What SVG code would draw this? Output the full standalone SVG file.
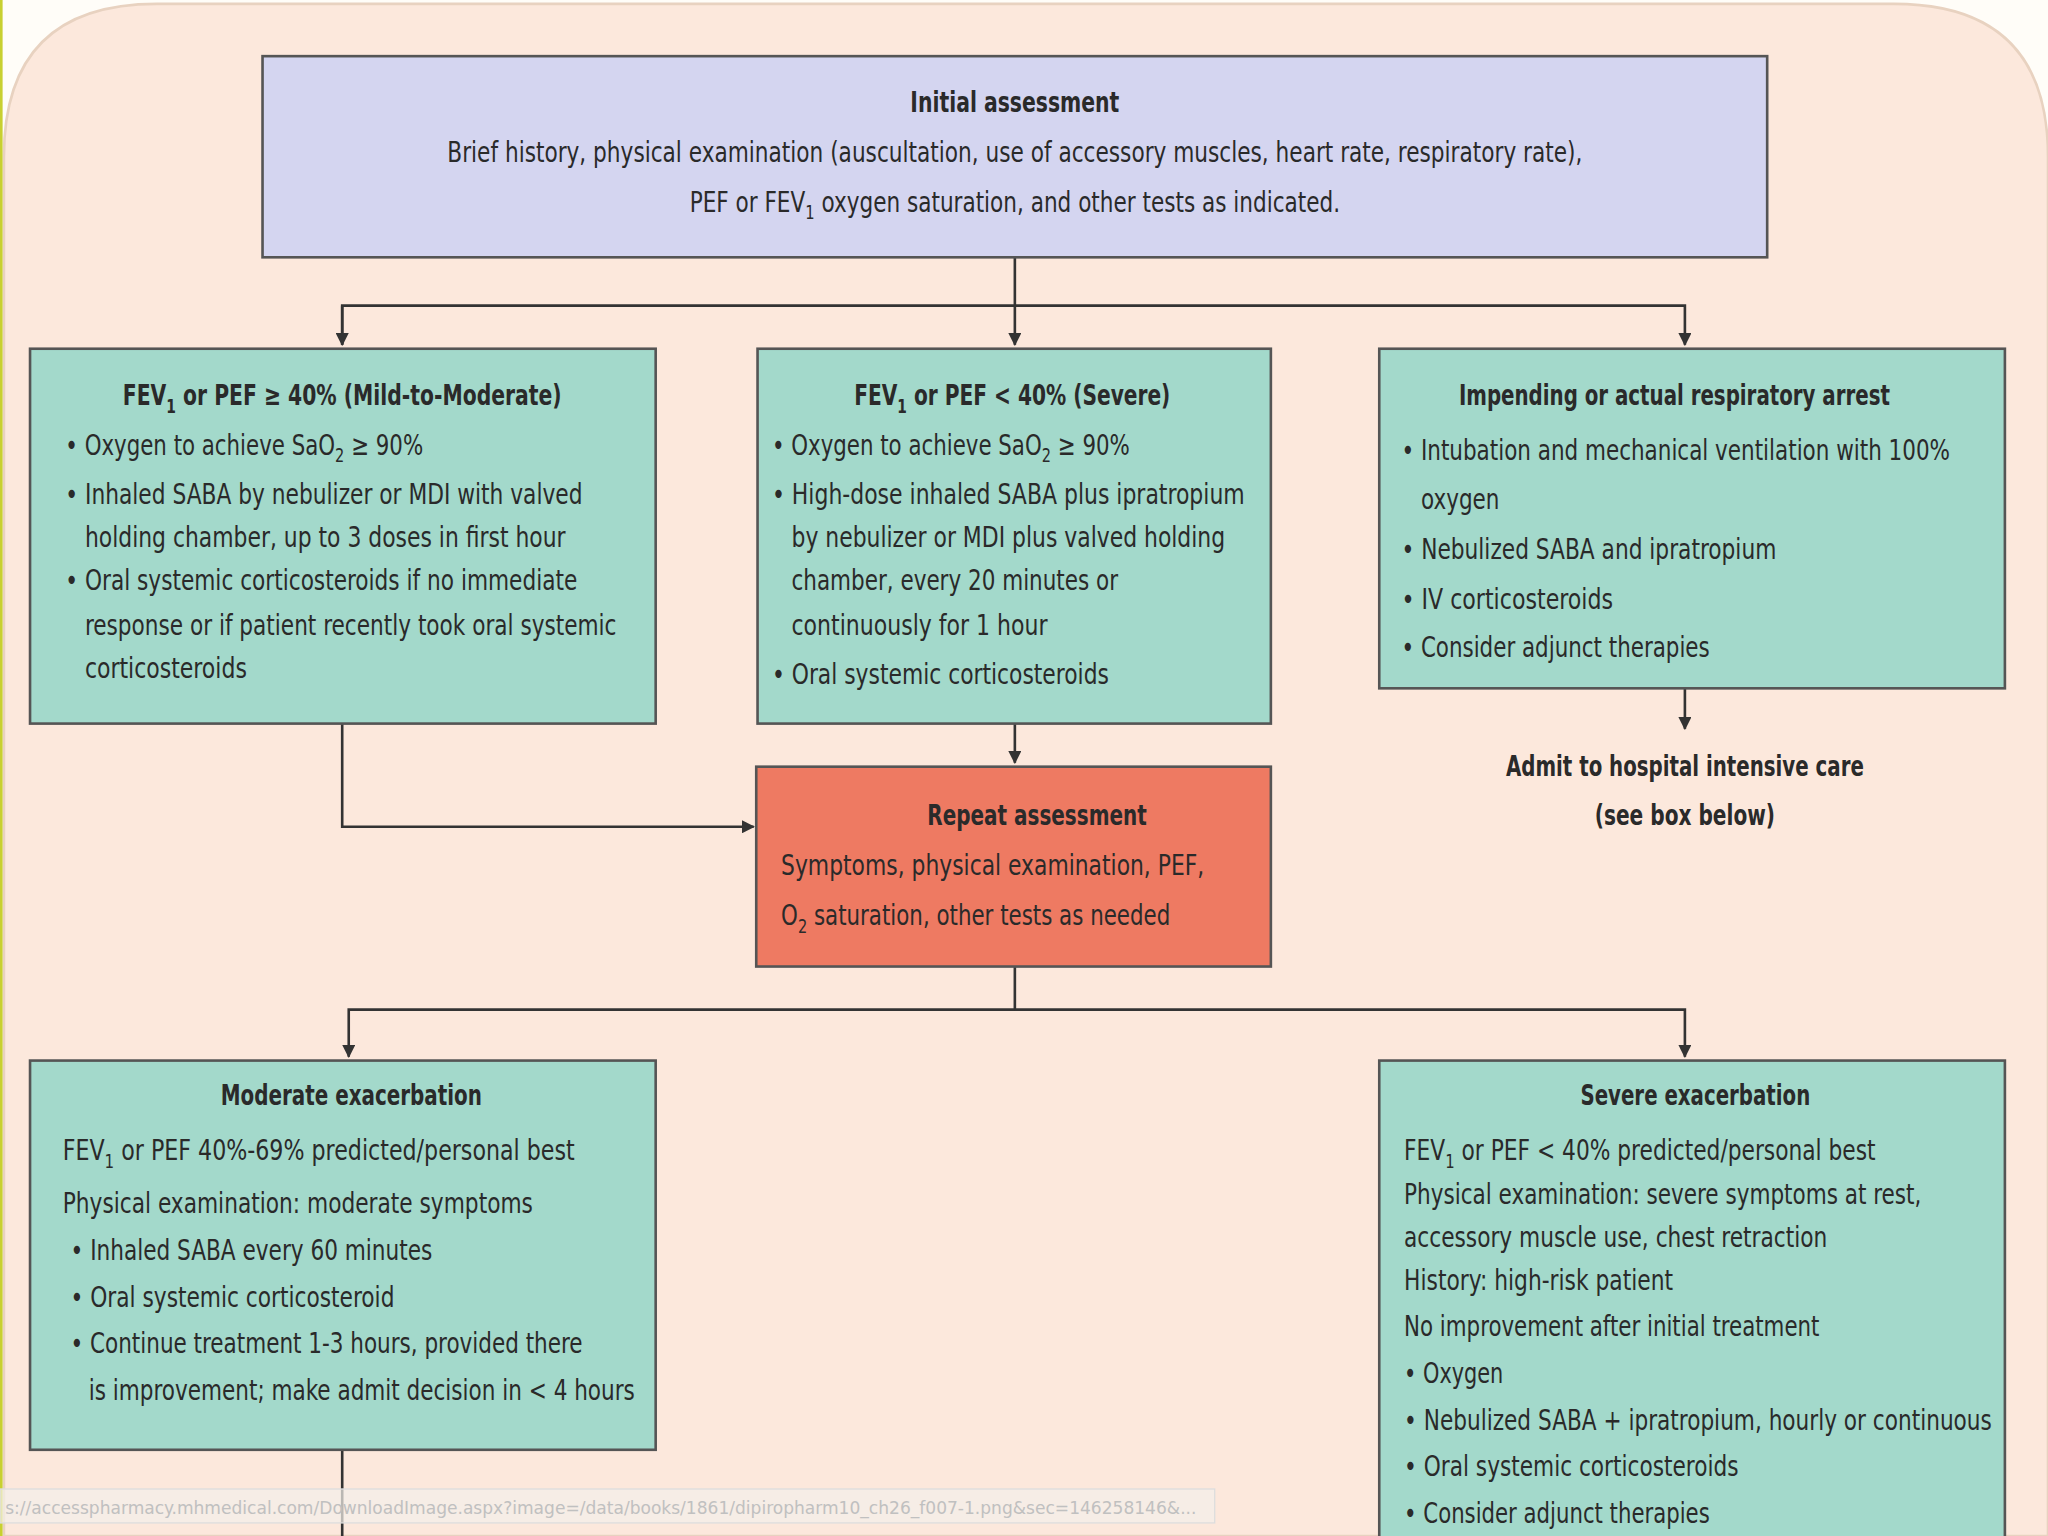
<svg xmlns="http://www.w3.org/2000/svg" width="2048" height="1536" viewBox="0 0 2048 1536">
<defs>
<marker id="ah" markerWidth="10" markerHeight="10" refX="9" refY="5" orient="auto" markerUnits="userSpaceOnUse"><path d="M0,0 L10,5 L0,10 Z" fill="#333"/></marker>
<style>
text{font-family:"DejaVu Sans Condensed","Liberation Sans Narrow","Liberation Sans",sans-serif;font-size:22px;fill:#2a2a2a}
.b{font-weight:bold}
.c{text-anchor:middle}
.box{stroke:#555;stroke-width:2}
.g{fill:#a3d9cb}
.con{stroke:#333;stroke-width:2;fill:none}
</style>
</defs>
<rect width="2048" height="1536" fill="#fffdf8"/>
<g transform="scale(1.30612)">
<path d="M3,1176 L3,120 Q3,3 120,3 L1450,3 Q1568,3 1568,120 L1568,1176 Z" fill="#fce8dc" stroke="#e8d2c0" stroke-width="2"/>
<line x1="1" y1="0" x2="1" y2="1176" stroke="#c8d030" stroke-width="2"/>
<g id="connectors">
<path class="con" d="M777,197 V264" marker-end="url(#ah)"/>
<path class="con" d="M262,264 V234 H1290 V264" marker-end="url(#ah)"/>
<path class="con" d="M262,234 V264" marker-end="url(#ah)"/>
<path class="con" d="M262,554 V633 H577" marker-end="url(#ah)"/>
<path class="con" d="M777,554 V584" marker-end="url(#ah)"/>
<path class="con" d="M1290,527 V558" marker-end="url(#ah)"/>
<path class="con" d="M777,740 V773 H1290 V809" marker-end="url(#ah)"/>
<path class="con" d="M777,773 H267 V809" marker-end="url(#ah)"/>
<path class="con" d="M262,1110 V1176"/>
</g>
<g id="initial">
<rect class="box" x="201" y="43" width="1152" height="154" fill="#d4d5f0"/>
<text class="b c" x="777" y="86" textLength="160" lengthAdjust="spacingAndGlyphs">Initial assessment</text>
<text class="c" x="777" y="124" textLength="869" lengthAdjust="spacingAndGlyphs">Brief history, physical examination (auscultation, use of accessory muscles, heart rate, respiratory rate),</text>
<text class="c" x="777" y="162" textLength="498" lengthAdjust="spacingAndGlyphs">PEF or FEV<tspan font-size="15" dy="6">1</tspan><tspan dy="-6"> oxygen saturation, and other tests as indicated.</tspan></text>
</g>
<g id="mild">
<rect class="box g" x="23" y="267" width="479" height="287"/>
<text class="b" x="94" y="310" textLength="336" lengthAdjust="spacingAndGlyphs">FEV<tspan font-size="15" dy="6">1</tspan><tspan dy="-6"> or PEF ≥ 40% (Mild-to-Moderate)</tspan></text>
<text x="50" y="348" textLength="274" lengthAdjust="spacingAndGlyphs">• Oxygen to achieve SaO<tspan font-size="15" dy="6">2</tspan><tspan dy="-6"> ≥ 90%</tspan></text>
<text x="50" y="386" textLength="396" lengthAdjust="spacingAndGlyphs">• Inhaled SABA by nebulizer or MDI with valved</text>
<text x="65" y="419" textLength="368" lengthAdjust="spacingAndGlyphs">holding chamber, up to 3 doses in first hour</text>
<text x="50" y="452" textLength="392" lengthAdjust="spacingAndGlyphs">• Oral systemic corticosteroids if no immediate</text>
<text x="65" y="486" textLength="407" lengthAdjust="spacingAndGlyphs">response or if patient recently took oral systemic</text>
<text x="65" y="519" textLength="124" lengthAdjust="spacingAndGlyphs">corticosteroids</text>
</g>
<g id="severe1">
<rect class="box g" x="580" y="267" width="393" height="287"/>
<text class="b" x="654" y="310" textLength="242" lengthAdjust="spacingAndGlyphs">FEV<tspan font-size="15" dy="6">1</tspan><tspan dy="-6"> or PEF &lt; 40% (Severe)</tspan></text>
<text x="591" y="348" textLength="274" lengthAdjust="spacingAndGlyphs">• Oxygen to achieve SaO<tspan font-size="15" dy="6">2</tspan><tspan dy="-6"> ≥ 90%</tspan></text>
<text x="591" y="386" textLength="362" lengthAdjust="spacingAndGlyphs">• High-dose inhaled SABA plus ipratropium</text>
<text x="606" y="419" textLength="332" lengthAdjust="spacingAndGlyphs">by nebulizer or MDI plus valved holding</text>
<text x="606" y="452" textLength="250" lengthAdjust="spacingAndGlyphs">chamber, every 20 minutes or</text>
<text x="606" y="486" textLength="196" lengthAdjust="spacingAndGlyphs">continuously for 1 hour</text>
<text x="591" y="524" textLength="258" lengthAdjust="spacingAndGlyphs">• Oral systemic corticosteroids</text>
</g>
<g id="arrest">
<rect class="box g" x="1056" y="267" width="479" height="260"/>
<text class="b c" x="1282" y="310" textLength="330" lengthAdjust="spacingAndGlyphs">Impending or actual respiratory arrest</text>
<text x="1073" y="352" textLength="420" lengthAdjust="spacingAndGlyphs">• Intubation and mechanical ventilation with 100%</text>
<text x="1088" y="390" textLength="60" lengthAdjust="spacingAndGlyphs">oxygen</text>
<text x="1073" y="428" textLength="287" lengthAdjust="spacingAndGlyphs">• Nebulized SABA and ipratropium</text>
<text x="1073" y="466" textLength="162" lengthAdjust="spacingAndGlyphs">• IV corticosteroids</text>
<text x="1073" y="503" textLength="236" lengthAdjust="spacingAndGlyphs">• Consider adjunct therapies</text>
</g>
<g id="admit">
<text class="b c" x="1290" y="594" textLength="274" lengthAdjust="spacingAndGlyphs">Admit to hospital intensive care</text>
<text class="b c" x="1290" y="632" textLength="138" lengthAdjust="spacingAndGlyphs">(see box below)</text>
</g>
<g id="repeat">
<rect class="box" x="579" y="587" width="394" height="153" fill="#ee7a62"/>
<text class="b c" x="794" y="632" textLength="168" lengthAdjust="spacingAndGlyphs">Repeat assessment</text>
<text x="598" y="670" textLength="324" lengthAdjust="spacingAndGlyphs">Symptoms, physical examination, PEF,</text>
<text x="598" y="708" textLength="298" lengthAdjust="spacingAndGlyphs">O<tspan font-size="15" dy="6">2</tspan><tspan dy="-6"> saturation, other tests as needed</tspan></text>
</g>
<g id="moderate">
<rect class="box g" x="23" y="812" width="479" height="298"/>
<text class="b c" x="269" y="846" textLength="200" lengthAdjust="spacingAndGlyphs">Moderate exacerbation</text>
<text x="48" y="888" textLength="392" lengthAdjust="spacingAndGlyphs">FEV<tspan font-size="15" dy="6">1</tspan><tspan dy="-6"> or PEF 40%-69% predicted/personal best</tspan></text>
<text x="48" y="929" textLength="360" lengthAdjust="spacingAndGlyphs">Physical examination: moderate symptoms</text>
<text x="54" y="965" textLength="277" lengthAdjust="spacingAndGlyphs">• Inhaled SABA every 60 minutes</text>
<text x="54" y="1001" textLength="248" lengthAdjust="spacingAndGlyphs">• Oral systemic corticosteroid</text>
<text x="54" y="1036" textLength="392" lengthAdjust="spacingAndGlyphs">• Continue treatment 1-3 hours, provided there</text>
<text x="68" y="1072" textLength="418" lengthAdjust="spacingAndGlyphs">is improvement; make admit decision in &lt; 4 hours</text>
</g>
<g id="severe2">
<rect class="box g" x="1056" y="812" width="479" height="370"/>
<text class="b c" x="1298" y="846" textLength="176" lengthAdjust="spacingAndGlyphs">Severe exacerbation</text>
<text x="1075" y="888" textLength="361" lengthAdjust="spacingAndGlyphs">FEV<tspan font-size="15" dy="6">1</tspan><tspan dy="-6"> or PEF &lt; 40% predicted/personal best</tspan></text>
<text x="1075" y="922" textLength="396" lengthAdjust="spacingAndGlyphs">Physical examination: severe symptoms at rest,</text>
<text x="1075" y="955" textLength="324" lengthAdjust="spacingAndGlyphs">accessory muscle use, chest retraction</text>
<text x="1075" y="988" textLength="206" lengthAdjust="spacingAndGlyphs">History: high-risk patient</text>
<text x="1075" y="1023" textLength="318" lengthAdjust="spacingAndGlyphs">No improvement after initial treatment</text>
<text x="1075" y="1059" textLength="76" lengthAdjust="spacingAndGlyphs">• Oxygen</text>
<text x="1075" y="1095" textLength="450" lengthAdjust="spacingAndGlyphs">• Nebulized SABA + ipratropium, hourly or continuous</text>
<text x="1075" y="1130" textLength="256" lengthAdjust="spacingAndGlyphs">• Oral systemic corticosteroids</text>
<text x="1075" y="1166" textLength="234" lengthAdjust="spacingAndGlyphs">• Consider adjunct therapies</text>
</g>
<g id="url">
<rect x="0" y="1140" width="930" height="26" fill="#f4f0ea" fill-opacity="0.7" stroke="#ddd"/>
<text x="4" y="1159" style="font-size:14px;fill:#c0c0c0" textLength="912" lengthAdjust="spacingAndGlyphs">s://accesspharmacy.mhmedical.com/DownloadImage.aspx?image=/data/books/1861/dipiropharm10_ch26_f007-1.png&amp;sec=146258146&amp;...</text>
</g>
</g>
</svg>
